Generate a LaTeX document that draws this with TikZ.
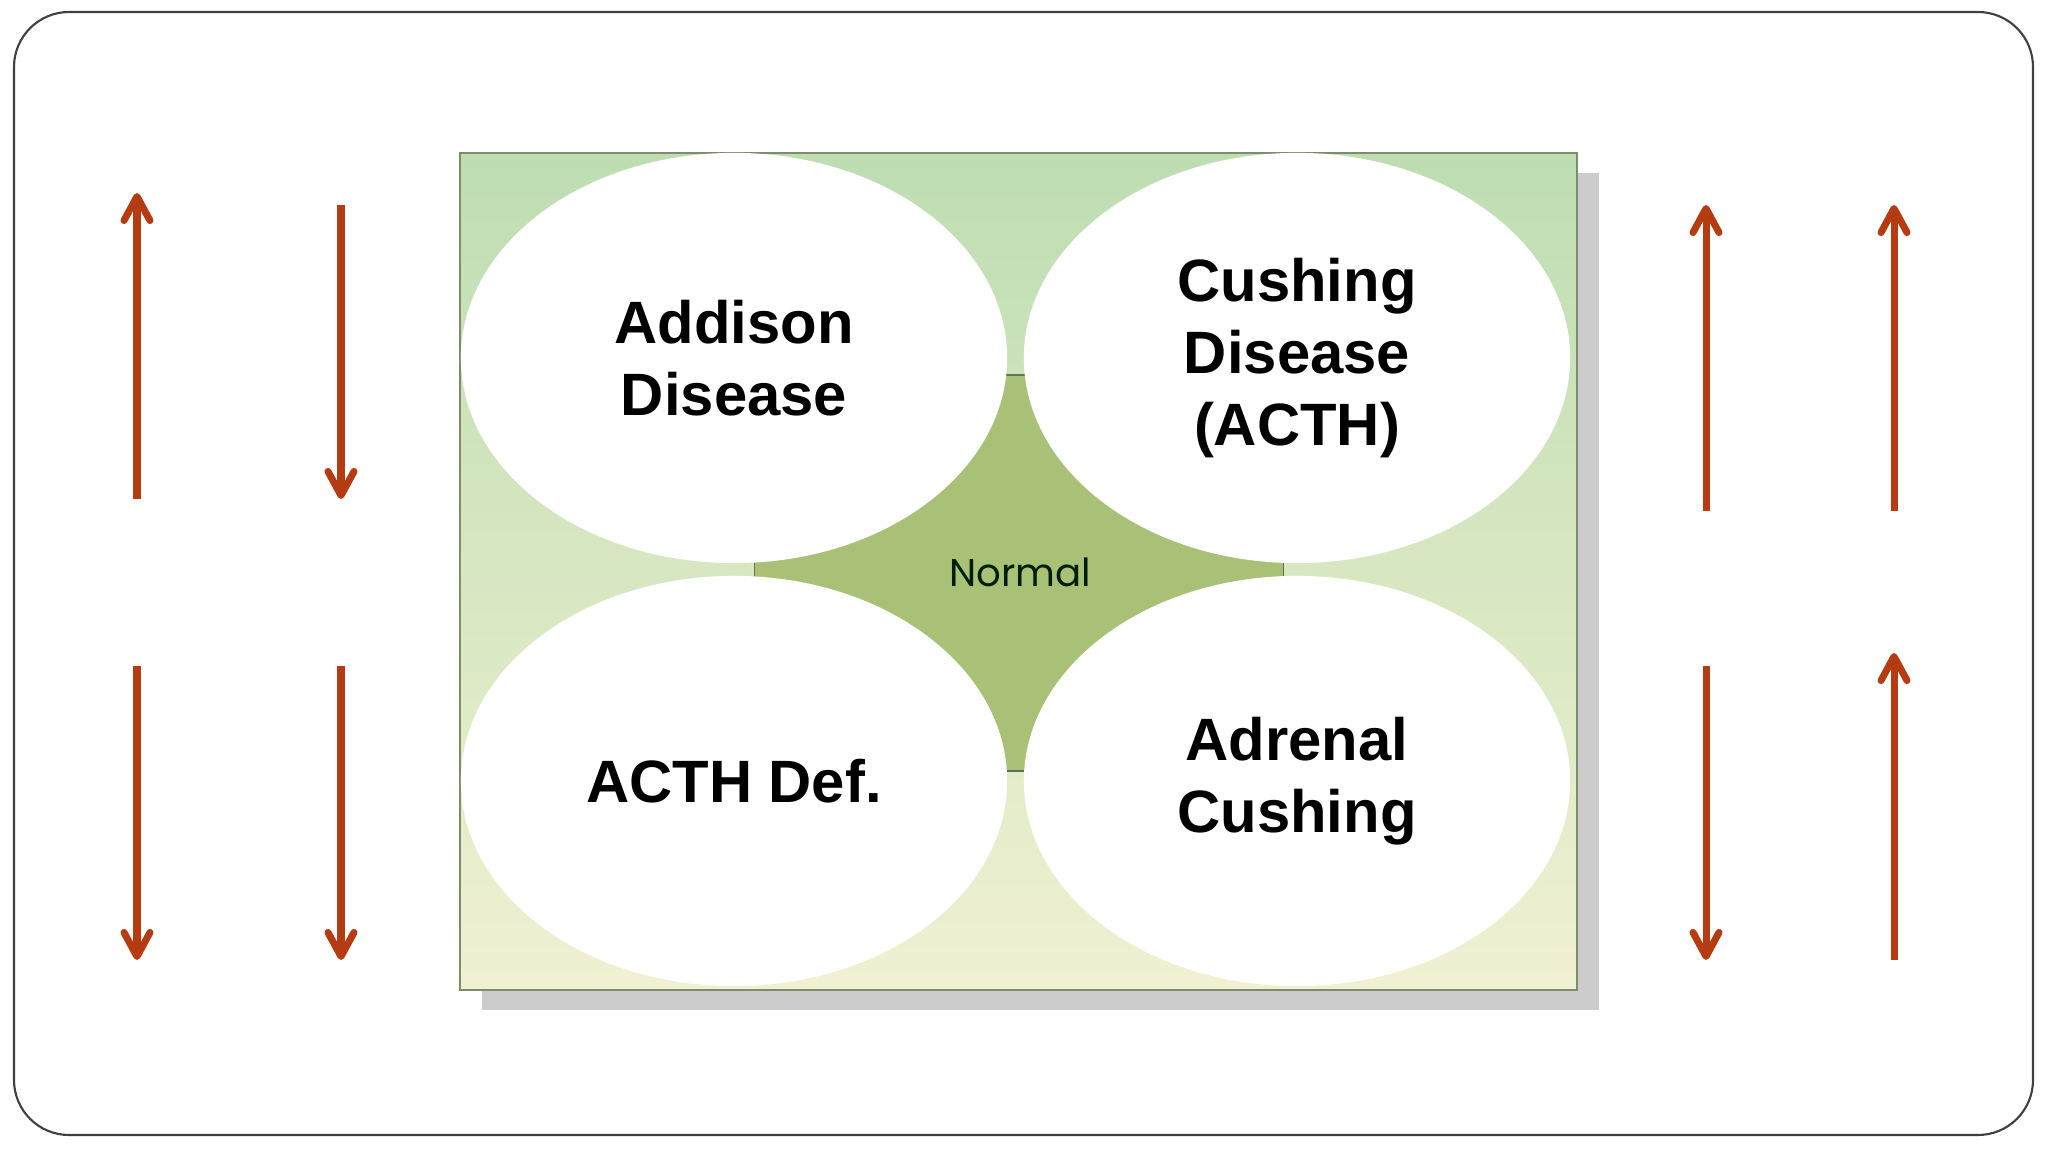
\documentclass[tikz,border=0pt]{standalone}
\usepackage{fontspec}
\setmainfont{Liberation Sans}
\newfontfamily\normfont{Poppins}
\usetikzlibrary{shapes.geometric,arrows.meta}
\definecolor{rust}{RGB}{181,60,18}
\definecolor{boxtop}{RGB}{190,221,178}
\definecolor{boxbot}{RGB}{240,241,210}
\definecolor{normgreen}{RGB}{169,193,118}
\definecolor{boxline}{RGB}{125,140,105}

\begin{document}
\begin{tikzpicture}[x=0.01cm,y=-0.01cm,
  blob/.style={ellipse,fill=white,minimum width=5.46cm,minimum height=4.1cm,
    inner sep=0pt,align=center,font=\fontsize{17}{20.5}\selectfont\bfseries},
  arr/.style={draw=rust,line width=2pt,
    -{Straight Barb[length=0.24cm,width=0.26cm,line cap=round,line join=round]}}]
 \useasboundingbox (0,0) rectangle (2048,1152);
 % frame and green panel
 \draw[black!75,line width=0.6pt,rounded corners=0.55cm] (14,12) rectangle (2033,1135);
 \fill[black!20] (482,173) rectangle (1599,1010);
 \shade[top color=boxtop,bottom color=boxbot] (460,153) rectangle (1577,990);
 \draw[boxline,line width=0.8pt] (460,153) rectangle (1577,990);
 \node[draw=boxline!80!black,fill=normgreen,minimum width=5.29cm,minimum height=3.96cm,
   inner sep=0pt] (nbox) at (1019,573) {};
 \node[blob] (addison) at (734,358) {Addison\\Disease};
 \node[blob] (cushing) at (1297,358) {Cushing\\Disease\\(ACTH)};
 \node[blob] (acthdef) at (734,781) {ACTH Def.};
 \node[blob] (adrenal) at (1297,781) {Adrenal\\Cushing};
 \node[text=black!80!green!60!black,font=\normfont\fontsize{11}{13}\selectfont] (normal) at (1020,572) {Normal};
 % arrows
 \foreach \n/\x/\a/\b in {a1/137/499/193, a2/341/205/499, a3/137/666/960, a4/341/666/960,
   a5/1706/511/205, a6/1894/511/205, a7/1706/666/960, a8/1894/960/653} {
   \coordinate (\n-s) at (\x,\a);
   \coordinate (\n-e) at (\x,\b);
   \draw[arr] (\n-s) -- (\n-e);
 }
\end{tikzpicture}
\end{document}
